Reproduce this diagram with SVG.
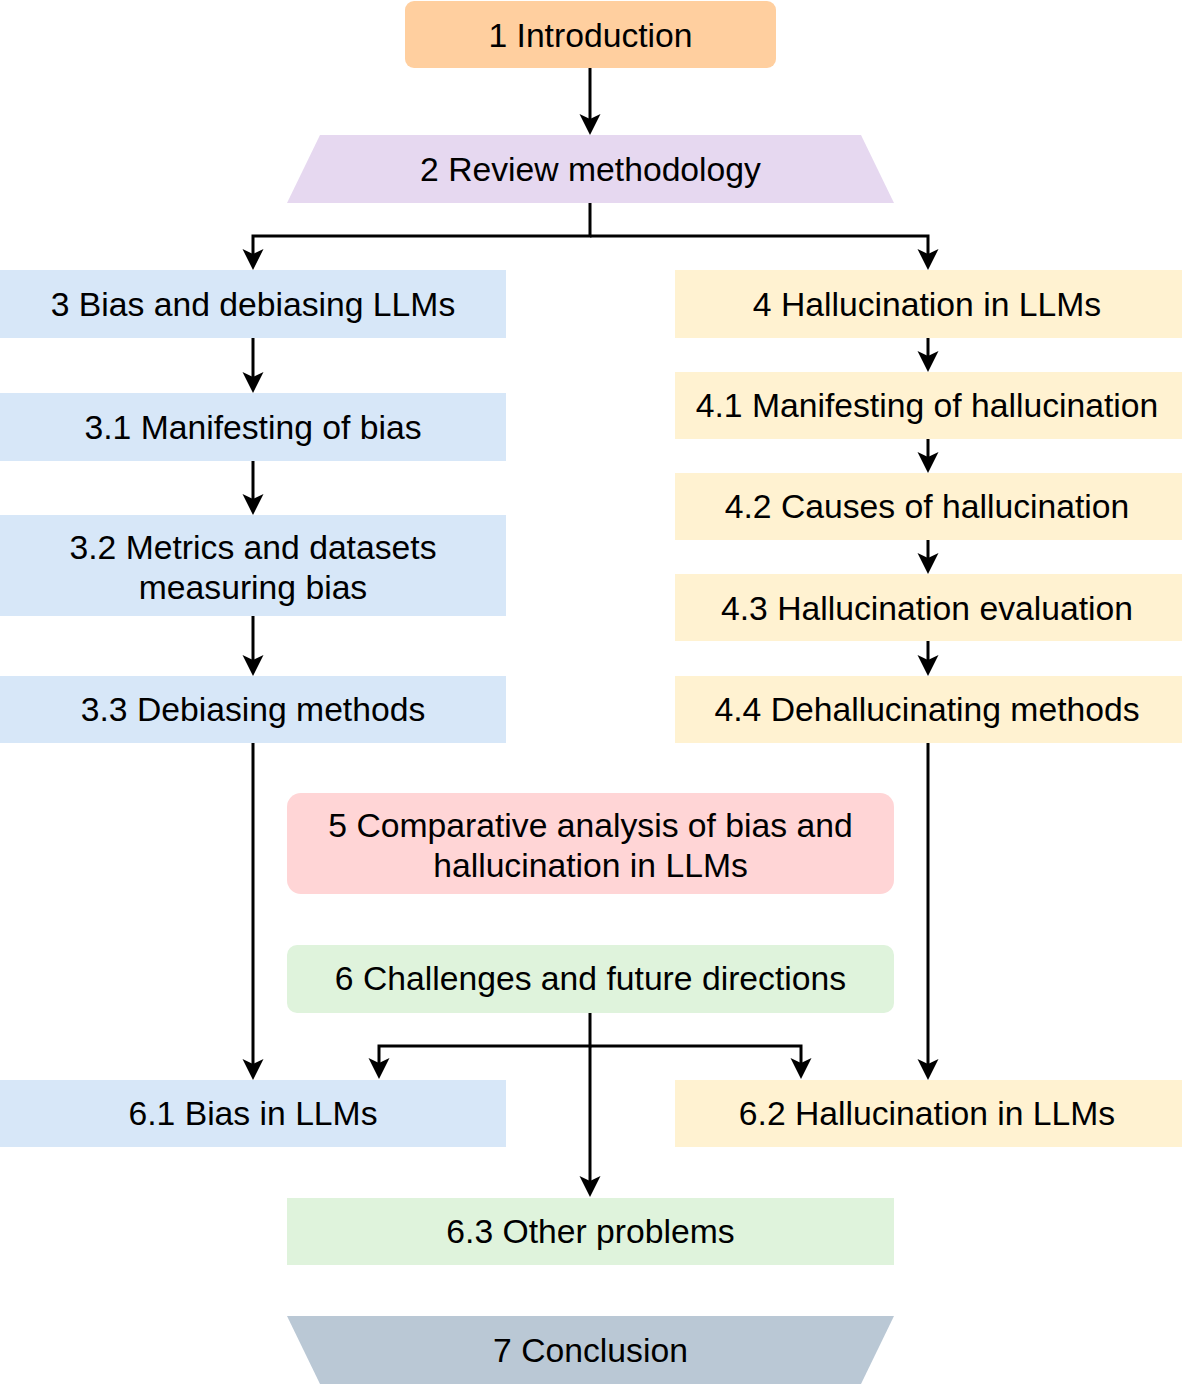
<svg xmlns="http://www.w3.org/2000/svg" width="1182" height="1384" viewBox="0 0 1182 1384">
<style>
text{font-family:"Liberation Sans",Arial,Helvetica,sans-serif;font-size:33.7px;fill:#000;text-anchor:middle}
.blue{fill:#d7e7f8}
.yel{fill:#fff2d1}
.grn{fill:#dff3dc}
.red{fill:#ffd5d6}
.pur{fill:#e6d8f0}
.gry{fill:#bac8d5}
.org{fill:#ffcf9f}
.c{fill:none;stroke:#000;stroke-width:3}
</style>
<defs>
<marker id="ah" markerUnits="userSpaceOnUse" viewBox="0 0 22 22" refX="5" refY="11" markerWidth="22" markerHeight="22" orient="auto">
<path d="M0,0.5 L21,11 L0,21.5 L5,11 Z" fill="#000"/>
</marker>
</defs>
<rect width="1182" height="1384" fill="#fff"/>
<g id="n1"><rect class="org" x="405" y="1" width="371" height="67" rx="9"/><text x="590.5" y="47">1 Introduction</text></g>
<g id="n2"><polygon class="pur" points="320,135 861,135 894,203 287,203"/><text x="590.5" y="181">2 Review methodology</text></g>
<g id="n3"><rect class="blue" x="0" y="270" width="506" height="68"/><text x="253" y="316">3 Bias and debiasing LLMs</text></g>
<g id="n31"><rect class="blue" x="0" y="393" width="506" height="68"/><text x="253" y="439">3.1 Manifesting of bias</text></g>
<g id="n32"><rect class="blue" x="0" y="515" width="506" height="101"/><text x="253" y="559">3.2 Metrics and datasets</text><text x="253" y="599">measuring bias</text></g>
<g id="n33"><rect class="blue" x="0" y="676" width="506" height="67"/><text x="253" y="721">3.3 Debiasing methods</text></g>
<g id="n4"><rect class="yel" x="675" y="270" width="507" height="68"/><text x="927" y="316">4 Hallucination in LLMs</text></g>
<g id="n41"><rect class="yel" x="675" y="372" width="507" height="67"/><text x="927" y="417">4.1 Manifesting of hallucination</text></g>
<g id="n42"><rect class="yel" x="675" y="473" width="507" height="67"/><text x="927" y="518">4.2 Causes of hallucination</text></g>
<g id="n43"><rect class="yel" x="675" y="574" width="507" height="67"/><text x="927" y="620">4.3 Hallucination evaluation</text></g>
<g id="n44"><rect class="yel" x="675" y="676" width="507" height="67"/><text x="927" y="721">4.4 Dehallucinating methods</text></g>
<g id="n5"><rect class="red" x="287" y="793" width="607" height="101" rx="14"/><text x="590.5" y="837">5 Comparative analysis of bias and</text><text x="590.5" y="877">hallucination in LLMs</text></g>
<g id="n6"><rect class="grn" x="287" y="945" width="607" height="68" rx="10"/><text x="590.5" y="990">6 Challenges and future directions</text></g>
<g id="n61"><rect class="blue" x="0" y="1080" width="506" height="67"/><text x="253" y="1125">6.1 Bias in LLMs</text></g>
<g id="n62"><rect class="yel" x="675" y="1080" width="507" height="67"/><text x="927" y="1125">6.2 Hallucination in LLMs</text></g>
<g id="n63"><rect class="grn" x="287" y="1198" width="607" height="67"/><text x="590.5" y="1243">6.3 Other problems</text></g>
<g id="n7"><polygon class="gry" points="287,1316 894,1316 861,1384 320,1384"/><text x="590.5" y="1362">7 Conclusion</text></g>
<g id="connectors">
<path class="c" d="M590,68 V119" marker-end="url(#ah)"/>
<path class="c" d="M590,203 V236 H253 V254" marker-end="url(#ah)"/>
<path class="c" d="M590,236 H928 V254" marker-end="url(#ah)"/>
<path class="c" d="M253,338 V377" marker-end="url(#ah)"/>
<path class="c" d="M253,461 V499" marker-end="url(#ah)"/>
<path class="c" d="M253,616 V660" marker-end="url(#ah)"/>
<path class="c" d="M253,743 V1064" marker-end="url(#ah)"/>
<path class="c" d="M928,338 V356" marker-end="url(#ah)"/>
<path class="c" d="M928,439 V457" marker-end="url(#ah)"/>
<path class="c" d="M928,540 V558" marker-end="url(#ah)"/>
<path class="c" d="M928,641 V660" marker-end="url(#ah)"/>
<path class="c" d="M928,743 V1064" marker-end="url(#ah)"/>
<path class="c" d="M590,1013 V1046 H379 V1063" marker-end="url(#ah)"/>
<path class="c" d="M590,1046 H801 V1063" marker-end="url(#ah)"/>
<path class="c" d="M590,1046 V1181" marker-end="url(#ah)"/>
</g>
</svg>
